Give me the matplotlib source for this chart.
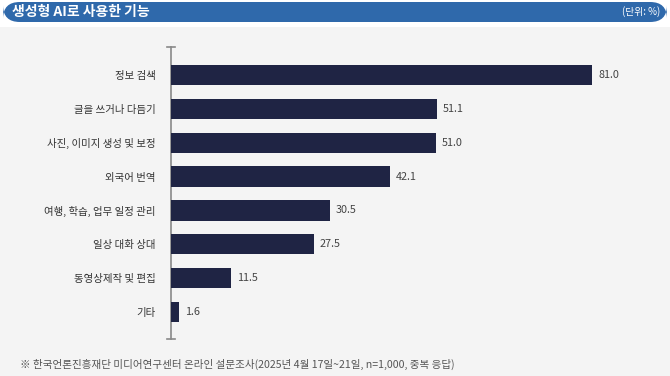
import matplotlib
matplotlib.use("Agg")
import matplotlib.pyplot as plt
from matplotlib.patches import FancyBboxPatch, Rectangle

plt.rcParams['font.family'] = ['Noto Sans CJK KR', 'DejaVu Sans']

categories = ["정보 검색", "글을 쓰거나 다듬기", "사진, 이미지 생성 및 보정", "외국어 번역",
              "여행, 학습, 업무 일정 관리", "일상 대화 상대", "동영상제작 및 편집", "기타"]
values = [81.0, 51.1, 51.0, 42.1, 30.5, 27.5, 11.5, 1.6]
title = "생성형 AI로 사용한 기능"
unit = "(단위: %)"
note = "※ 한국언론진흥재단 미디어연구센터 온라인 설문조사(2025년 4월 17일~21일, n=1,000, 중복 응답)"

W, H = 670, 376
fig = plt.figure(figsize=(W / 100, H / 100), dpi=100)
fig.patch.set_facecolor('#f4f4f4')

# white strip behind header
fig.patches.append(Rectangle((0, 1 - 27 / H), 1, 27 / H, transform=fig.transFigure,
                             facecolor='white', edgecolor='none', zorder=0))
# header band
hdr = FancyBboxPatch((3 / W, 1 - 22 / H), (W - 6) / W, 20 / H,
                     boxstyle="round,pad=0,rounding_size=0.025",
                     mutation_aspect=W / H,
                     transform=fig.transFigure, facecolor='#2f69ab', edgecolor='none', zorder=1)
fig.patches.append(hdr)
fig.text(12 / W, 1 - 12 / H, title, color='white', fontsize=10, fontweight='bold',
         va='center', ha='left', zorder=2)
fig.text(660 / W, 1 - 12 / H, unit, color='white', fontsize=7, va='center', ha='right', zorder=2)

# axes
ax_left, ax_right = 171, 650
ax_top, ax_bot = 47, 339
ax = fig.add_axes([ax_left / W, 1 - ax_bot / H, (ax_right - ax_left) / W, (ax_bot - ax_top) / H])
ax.set_facecolor('none')
px_per_unit = (592 - 171) / 81.0
ax.set_xlim(0, (ax_right - ax_left) / px_per_unit)
spacing = (312 - 75) / 7
ax.set_ylim(7 + (339 - 312) / spacing, -(75 - 47) / spacing)

ypos = list(range(len(categories)))
ax.barh(ypos, values, height=0.6, color='#1f2444', zorder=3)
for y, v in zip(ypos, values):
    ax.text(v + 6 / px_per_unit, y, f"{v:.1f}", va='center', ha='left', fontsize=7.8, color='#444444')

ax.set_yticks(ypos)
ax.set_yticklabels(categories, fontsize=7.5, color='#333333')
ax.tick_params(axis='y', length=0, pad=11)
ax.set_xticks([])
for s in ['top', 'right', 'bottom']:
    ax.spines[s].set_visible(False)
ax.spines['left'].set_color('#888888')
ax.spines['left'].set_linewidth(1.2)
# caps at axis ends
cap = 4 / (ax_right - ax_left)
ax.plot([-cap, cap], [1, 1], transform=ax.transAxes, color='#888888', lw=1.2, clip_on=False)
ax.plot([-cap, cap], [0, 0], transform=ax.transAxes, color='#888888', lw=1.2, clip_on=False)

fig.text(20 / W, 1 - 364 / H, note, fontsize=7.6, color='#555555', va='center', ha='left')

fig.savefig('out.png', dpi=100, facecolor=fig.get_facecolor())
